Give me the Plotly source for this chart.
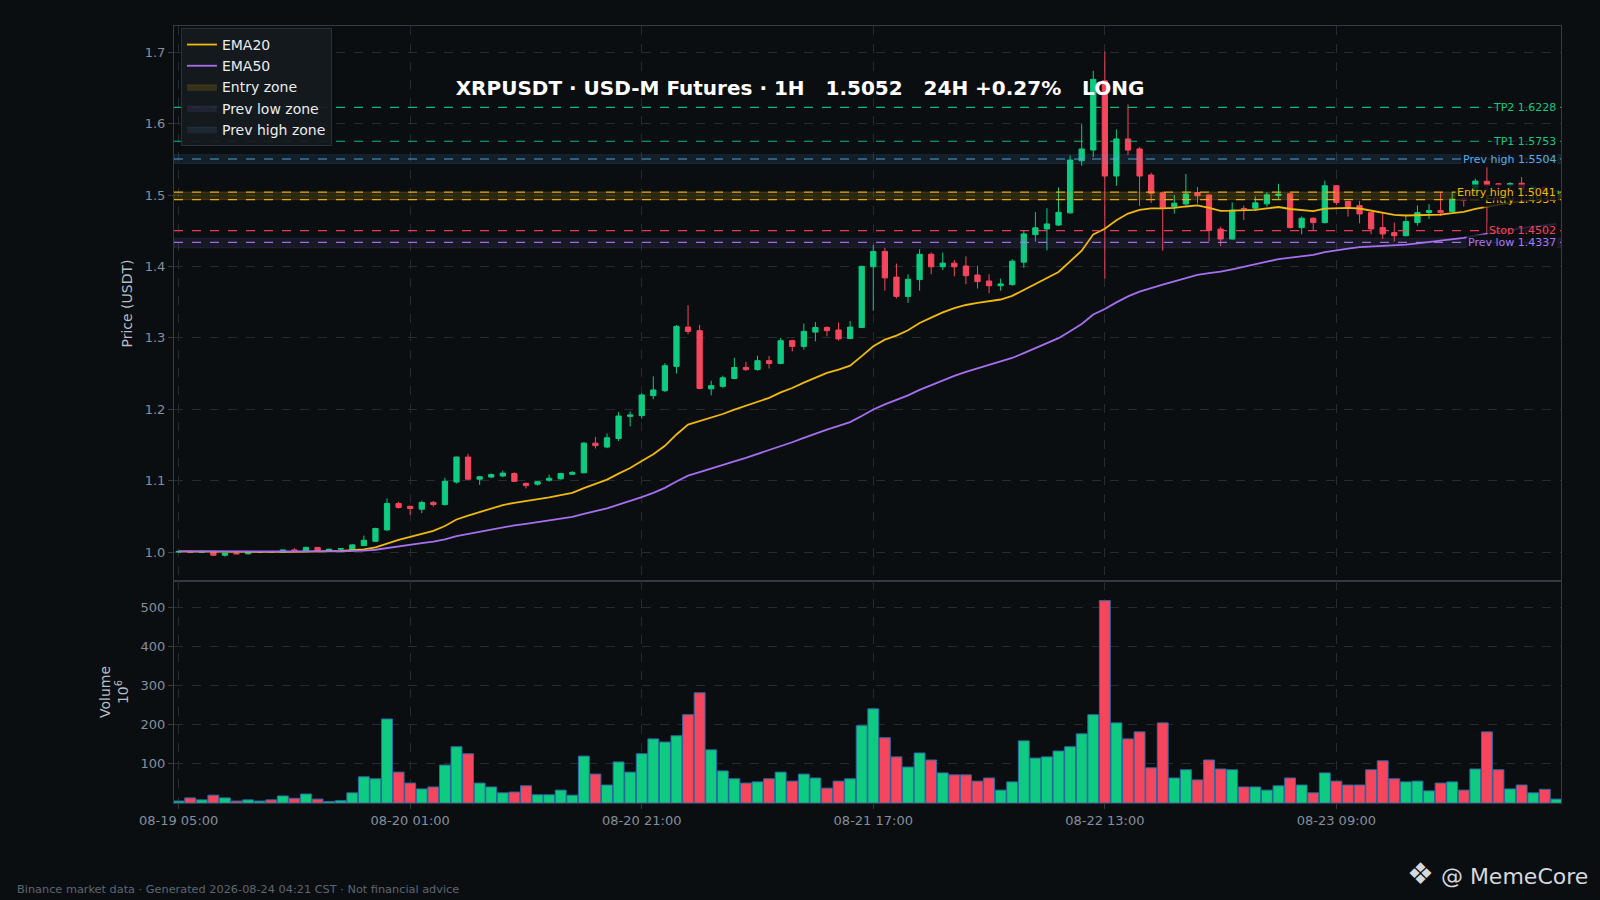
import pandas as pd
import plotly.graph_objects as go
from plotly.subplots import make_subplots

# XRPUSDT 1h candles, 08-19 05:00 -> 08-24 04:00
start = "2026-08-19 05:00"

opens = [1.0000, 1.0008, 0.9995, 1.0008, 0.9955, 0.9985, 0.9975, 0.9995, 1.0000, 0.9998,
         1.0030, 1.0015, 1.0065, 1.0020, 1.0040, 1.0035, 1.0090, 1.0150, 1.0310, 1.0680,
         1.0640, 1.0600, 1.0695, 1.0665, 1.0980, 1.1330, 1.1020, 1.1050, 1.1065, 1.1100,
         1.0960, 1.0950, 1.1005, 1.1025, 1.1090, 1.1110, 1.1525, 1.1470, 1.1590, 1.1900,
         1.1910, 1.2190, 1.2260, 1.2600, 1.3150, 1.3100, 1.2285, 1.2320, 1.2430, 1.2585,
         1.2555, 1.2680, 1.2640, 1.2960, 1.2880, 1.3080, 1.3145, 1.3110, 1.2990, 1.3145,
         1.3995, 1.4210, 1.3850, 1.3580, 1.3815, 1.4170, 1.3995, 1.4046, 1.4005, 1.3880,
         1.3796, 1.3730, 1.3745, 1.4060, 1.4445, 1.4525, 1.4580, 1.4750, 1.5480, 1.5630,
         1.6600, 1.5266, 1.5785, 1.5645, 1.5280, 1.5030, 1.4836, 1.4875, 1.5035, 1.5000,
         1.4523, 1.4383, 1.4812, 1.4815, 1.4876, 1.4993, 1.5017, 1.4544, 1.4675, 1.4614,
         1.5130, 1.4909, 1.4852, 1.4754, 1.4544, 1.4473, 1.4430, 1.4614, 1.4754, 1.4782,
         1.4768, 1.4950, 1.5060, 1.5192, 1.5157, 1.5140, 1.5165, 1.5080, 1.5110, 1.5020]
highs = [1.0012, 1.0012, 1.0025, 1.0010, 0.9990, 0.9995, 1.0000, 1.0005, 1.0008, 1.0035,
         1.0055, 1.0075, 1.0070, 1.0045, 1.0055, 1.0110, 1.0230, 1.0340, 1.0750, 1.0705,
         1.0650, 1.0720, 1.0715, 1.1040, 1.1335, 1.1375, 1.1060, 1.1100, 1.1140, 1.1115,
         1.0975, 1.0990, 1.1085, 1.1110, 1.1135, 1.1540, 1.1610, 1.1660, 1.1960, 1.1970,
         1.2225, 1.2460, 1.2645, 1.3180, 1.3455, 1.3180, 1.2400, 1.2470, 1.2720, 1.2665,
         1.2750, 1.2745, 1.3000, 1.2975, 1.3200, 1.3220, 1.3160, 1.3215, 1.3235, 1.4010,
         1.4300, 1.4260, 1.4040, 1.3890, 1.4240, 1.4195, 1.4195, 1.4090, 1.4140, 1.4010,
         1.3890, 1.3830, 1.4100, 1.4500, 1.4760, 1.4815, 1.5107, 1.5555, 1.5990, 1.6740,
         1.7010, 1.5920, 1.6270, 1.5670, 1.5310, 1.5050, 1.5000, 1.5295, 1.5112, 1.5010,
         1.4556, 1.4897, 1.4852, 1.4980, 1.5040, 1.5157, 1.5030, 1.4700, 1.4685, 1.5200,
         1.5140, 1.4915, 1.4918, 1.4760, 1.4754, 1.4614, 1.4707, 1.4853, 1.4872, 1.5040,
         1.5040, 1.4960, 1.5230, 1.5400, 1.5165, 1.5180, 1.5252, 1.5130, 1.5120, 1.5070]
lows = [0.9990, 0.9985, 0.9990, 0.9945, 0.9935, 0.9970, 0.9965, 0.9985, 0.9992, 0.9995,
        1.0005, 1.0010, 1.0015, 1.0012, 1.0030, 1.0030, 1.0085, 1.0145, 1.0295, 1.0610,
        1.0520, 1.0545, 1.0635, 1.0650, 1.0960, 1.1010, 1.0940, 1.1035, 1.1050, 1.0980,
        1.0890, 1.0930, 1.0985, 1.1015, 1.1080, 1.1100, 1.1450, 1.1455, 1.1555, 1.1760,
        1.1870, 1.2140, 1.2240, 1.2500, 1.3050, 1.2280, 1.2195, 1.2300, 1.2420, 1.2535,
        1.2540, 1.2570, 1.2630, 1.2810, 1.2835, 1.2950, 1.3020, 1.2960, 1.2980, 1.3135,
        1.3380, 1.3660, 1.3550, 1.3490, 1.3660, 1.3890, 1.3950, 1.3860, 1.3750, 1.3690,
        1.3625, 1.3660, 1.3730, 1.3980, 1.4345, 1.4225, 1.4565, 1.4740, 1.5410, 1.5530,
        1.3830, 1.5130, 1.5560, 1.4846, 1.4890, 1.4220, 1.4740, 1.4860, 1.4883, 1.4350,
        1.4285, 1.4375, 1.4650, 1.4775, 1.4838, 1.4940, 1.4530, 1.4450, 1.4510, 1.4600,
        1.4860, 1.4698, 1.4604, 1.4450, 1.4384, 1.4347, 1.4420, 1.4570, 1.4665, 1.4707,
        1.4760, 1.4838, 1.5030, 1.4462, 1.5066, 1.5050, 1.5050, 1.5040, 1.5000, 1.5010]
closes = [1.0008, 0.9995, 1.0005, 0.9955, 0.9985, 0.9975, 0.9995, 1.0000, 0.9998, 1.0030,
          1.0015, 1.0065, 1.0020, 1.0040, 1.0048, 1.0100, 1.0165, 1.0330, 1.0680, 1.0625,
          1.0610, 1.0695, 1.0665, 1.0990, 1.1330, 1.1020, 1.1055, 1.1085, 1.1105, 1.0990,
          1.0930, 1.0985, 1.1033, 1.1100, 1.1115, 1.1525, 1.1490, 1.1600, 1.1905, 1.1920,
          1.2200, 1.2270, 1.2610, 1.3160, 1.3090, 1.2290, 1.2330, 1.2440, 1.2585, 1.2555,
          1.2680, 1.2640, 1.2960, 1.2880, 1.3090, 1.3145, 1.3100, 1.2985, 1.3150, 1.4000,
          1.4210, 1.3840, 1.3580, 1.3820, 1.4170, 1.3995, 1.4046, 1.3995, 1.3870, 1.3787,
          1.3730, 1.3755, 1.4074, 1.4455, 1.4540, 1.4595, 1.4757, 1.5490, 1.5645, 1.6620,
          1.5266, 1.5785, 1.5630, 1.5266, 1.5025, 1.4827, 1.4885, 1.5015, 1.4990, 1.4505,
          1.4383, 1.4790, 1.4805, 1.4890, 1.5003, 1.5012, 1.4544, 1.4675, 1.4614, 1.5130,
          1.4895, 1.4838, 1.4735, 1.4525, 1.4455, 1.4430, 1.4628, 1.4754, 1.4782, 1.4754,
          1.4942, 1.4925, 1.5195, 1.5136, 1.5145, 1.5160, 1.5080, 1.5110, 1.5020, 1.5052]
# volume in millions
volumes = [5, 13, 8, 20, 13, 5, 8, 5, 8, 18,
           12, 23, 10, 4, 6, 26, 67, 62, 215, 79,
           51, 36, 41, 97, 144, 126, 51, 41, 26, 28,
           44, 21, 21, 33, 20, 120, 74, 46, 105, 79,
           126, 164, 156, 172, 226, 282, 136, 82, 62, 51,
           54, 62, 79, 56, 74, 64, 38, 56, 62, 198,
           241, 167, 118, 92, 128, 110, 77, 72, 72, 56,
           64, 33, 54, 159, 115, 118, 133, 144, 177, 226,
           518, 205, 164, 182, 90, 205, 64, 85, 59, 110,
           87, 85, 41, 41, 33, 44, 64, 46, 26, 77,
           56, 46, 46, 85, 108, 62, 54, 56, 31, 51,
           54, 33, 87, 182, 85, 36, 46, 26, 35, 10]

level_names = ["TP2", "TP1", "Prev high", "Entry", "Entry high", "Stop", "Prev low"]
level_values = [1.6228, 1.5753, 1.5504, 1.4934, 1.5041, 1.4502, 1.4337]
level_colors = ["#16c784", "#16c784", "#5aaee8", "#f0b90b", "#f0b90b", "#f6465d", "#a77bf3"]

zone_names = ["Entry zone", "Prev low zone", "Prev high zone"]
zone_low = [1.4934, 1.4260, 1.5443]
zone_high = [1.5041, 1.4395, 1.5565]
zone_fill = ["rgba(240,185,11,0.15)", "rgba(130,110,200,0.12)", "rgba(90,160,220,0.11)"]
zone_edge = ["rgba(240,185,11,0.35)", "rgba(130,110,200,0.30)", "rgba(90,160,220,0.30)"]

tick_every = 20

UP = "#0ecb81"
DOWN = "#f6465d"
BG = "#0b0e11"
GRID = "#262b32"
AXIS = "#353a42"
TXT = "#848e9c"

df = pd.DataFrame({"open": opens, "high": highs, "low": lows, "close": closes, "volume": volumes},
                  index=pd.date_range(start, periods=len(closes), freq="h"))
df["ema20"] = df["close"].ewm(span=20, adjust=False).mean()
df["ema50"] = df["close"].ewm(span=50, adjust=False).mean()

x0 = df.index[0] - pd.Timedelta(minutes=24)
x1 = df.index[-1] + pd.Timedelta(minutes=24)

fig = make_subplots(rows=2, cols=1, shared_xaxes=True, vertical_spacing=0)

# zones (drawn first, behind candles)
for name, lo, hi, fc, ec, rank in zip(zone_names, zone_low, zone_high, zone_fill, zone_edge, [3, 4, 5]):
    fig.add_trace(go.Scatter(x=[x0, x1, x1, x0, x0], y=[lo, lo, hi, hi, lo], mode="lines",
                             fill="toself", fillcolor=fc, line=dict(color=ec, width=0.5),
                             name=name, legendrank=rank, hoverinfo="skip"), row=1, col=1)

fig.add_trace(go.Candlestick(x=df.index, open=df["open"], high=df["high"], low=df["low"], close=df["close"],
                             increasing=dict(line=dict(color=UP, width=1), fillcolor=UP),
                             decreasing=dict(line=dict(color=DOWN, width=1), fillcolor=DOWN),
                             showlegend=False), row=1, col=1)

fig.add_trace(go.Scatter(x=df.index, y=df["ema20"], mode="lines", name="EMA20", legendrank=1,
                         line=dict(color="#f0b90b", width=1.8)), row=1, col=1)
fig.add_trace(go.Scatter(x=df.index, y=df["ema50"], mode="lines", name="EMA50", legendrank=2,
                         line=dict(color="#a66ff0", width=1.8)), row=1, col=1)

vol_colors = [UP if c >= o else DOWN for o, c in zip(df["open"], df["close"])]
fig.add_trace(go.Bar(x=df.index, y=df["volume"], marker=dict(color=vol_colors, line=dict(color="#2c6ba6", width=1)),
                     showlegend=False), row=2, col=1)

# price levels with right-side labels
for name, val, col in zip(level_names, level_values, level_colors):
    fig.add_hline(y=val, line=dict(color=col, width=1.2, dash="dash"), opacity=0.9, row=1, col=1)
    fig.add_annotation(x=1, xref="paper", y=val, yref="y", xanchor="right", yanchor="middle",
                       xshift=-3, text=f"{name} {val:.4f}", showarrow=False,
                       font=dict(size=11, color=col), bgcolor="rgba(11,14,17,0.8)", borderpad=1)

tickvals = df.index[::tick_every]
ticktext = [t.strftime("%m-%d %H:%M") for t in tickvals]

axis_common = dict(showline=True, linecolor=AXIS, linewidth=1, mirror=True,
                   gridcolor=GRID, griddash="dash", gridwidth=1, zeroline=False,
                   ticks="outside", ticklen=5, tickcolor=AXIS, tickfont=dict(size=13, color=TXT))

fig.update_xaxes(**axis_common, range=[x0, x1], tickvals=tickvals, ticktext=ticktext)
fig.update_xaxes(showticklabels=False, ticks="", row=1, col=1)
fig.update_xaxes(rangeslider_visible=False)

fig.update_yaxes(**axis_common)
fig.update_yaxes(range=[0.9594, 1.7367], dtick=0.1, tickformat=".1f", domain=[0.2857, 1],
                 title=dict(text="Price (USDT)", font=dict(size=14, color="#b7bdc6"), standoff=8), row=1, col=1)
fig.update_yaxes(range=[0, 568], tickvals=[100, 200, 300, 400, 500], domain=[0, 0.2857],
                 title=dict(text="Volume<br>10<sup>6</sup>", font=dict(size=14, color="#b7bdc6"), standoff=8),
                 row=2, col=1)

fig.update_layout(
    width=1600, height=900,
    paper_bgcolor=BG, plot_bgcolor=BG,
    font=dict(family="DejaVu Sans", color=TXT),
    margin=dict(l=174, r=39, t=26, b=97),
    bargap=0.06, boxgap=0.35,
    title=dict(text="XRPUSDT · USD-M Futures · 1H\u00a0\u00a0 1.5052\u00a0\u00a0 24H +0.27%\u00a0\u00a0 LONG",
               x=0.5, xref="container", xanchor="center", y=1 - 88 / 900, yref="container", yanchor="middle",
               font=dict(size=20, color="#ffffff", family="DejaVu Sans", weight="bold")),
    legend=dict(x=0.005, y=0.9975, xanchor="left", yanchor="top", bgcolor="rgba(22,26,31,0.92)",
                bordercolor="#2b3139", borderwidth=1, font=dict(size=14, color="#eaecef"),
                tracegroupgap=0, itemwidth=30),
    hovermode=False,
)

fig.add_annotation(x=-0.1145, xref="paper", y=-0.1108, yref="paper", xanchor="left", yanchor="middle",
                   text="Binance market data · Generated 2026-08-24 04:21 CST · Not financial advice",
                   showarrow=False, font=dict(size=11.3, color="#5e6673"))
fig.add_annotation(x=1.0209, xref="paper", y=-0.0901, yref="paper", xanchor="right", yanchor="middle",
                   text="<span style='font-size:30px'>❖</span> @ MemeCore", showarrow=False,
                   font=dict(size=22, color="#d5d8dc"))

fig.write_html("out.html", config={"displayModeBar": False},
               post_script="document.body.style.margin='0';document.body.style.overflow='hidden';")
